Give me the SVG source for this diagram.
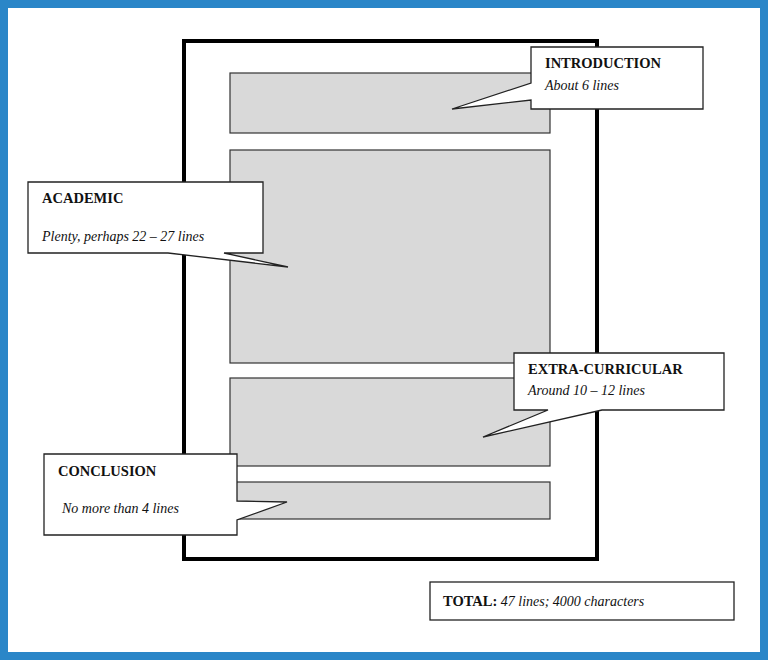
<svg xmlns="http://www.w3.org/2000/svg" width="768" height="660" viewBox="0 0 768 660">
<style>
.g{fill:#d9d9d9;stroke:#333;stroke-width:1.2}
.c{fill:#fff;stroke:#222;stroke-width:1.3;stroke-linejoin:miter}
.t{font-family:"Liberation Serif",serif;font-size:14px;fill:#111}
.b{font-weight:bold;font-size:14.5px}
.i{font-style:italic}
</style>
<rect x="4" y="4" width="760" height="652" fill="#fff" stroke="#2a86c8" stroke-width="8"/>
<g id="page"><rect x="184" y="41" width="413" height="518" fill="#fff" stroke="#000" stroke-width="4"/></g>
<g id="sections">
<rect class="g" x="230" y="73" width="320" height="60"/>
<rect class="g" x="230" y="150" width="320" height="213"/>
<rect class="g" x="230" y="378" width="320" height="88"/>
<rect class="g" x="230" y="482" width="320" height="37"/>
</g>
<g id="connectors"></g>
<g id="intro"><path class="c" d="M531,47 H703 V109 H531 V100 L452,109 L531,83 Z"/>
<text class="t b" x="545" y="68">INTRODUCTION</text><text class="t i" x="545" y="90">About 6 lines</text></g>
<g id="academic"><path class="c" d="M28,182 H263 V253 H224 L288,267 L168,253 H28 Z"/>
<text class="t b" x="42" y="203">ACADEMIC</text><text class="t i" x="42" y="241">Plenty, perhaps 22 – 27 lines</text></g>
<g id="extra"><path class="c" d="M514,353 H724 V410 H602 L483,437 L548,410 H514 Z"/>
<text class="t b" x="528" y="374">EXTRA-CURRICULAR</text><text class="t i" x="528" y="395">Around 10 – 12 lines</text></g>
<g id="conclusion"><path class="c" d="M44,454 H237 V501 L287,502 L237,520 V535 H44 Z"/>
<text class="t b" x="58" y="476">CONCLUSION</text><text class="t i" x="62" y="513">No more than 4 lines</text></g>
<g id="total"><rect class="c" x="430" y="582" width="304" height="38"/>
<text class="t" x="443" y="606"><tspan class="b">TOTAL:</tspan><tspan class="i"> 47 lines; 4000 characters</tspan></text></g>
</svg>
